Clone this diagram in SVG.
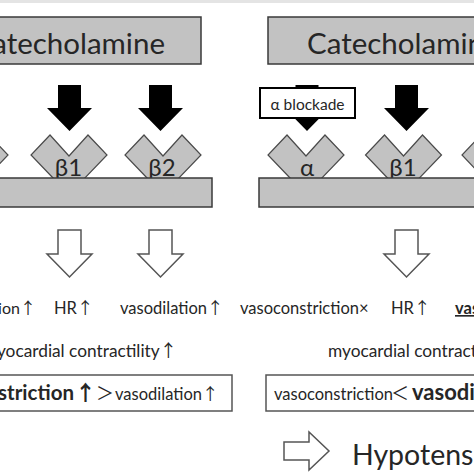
<svg xmlns="http://www.w3.org/2000/svg" xmlns:xlink="http://www.w3.org/1999/xlink" width="474" height="474" viewBox="0 0 474 474">
<style>
.gray{fill:#c2c2c2;stroke:#3a3a3a;stroke-width:1.5}
.rec{fill:#c2c2c2;stroke:#4a4a4a;stroke-width:1.2}
.blk{fill:#000}
.wht{fill:#fff;stroke:#555;stroke-width:1.5}
.t{font-family:Lato,"Noto Sans","Noto Sans CJK JP",sans-serif;fill:#262626}
.cjk{font-family:"Noto Sans CJK JP",sans-serif}
.title{font-size:29.5px}
.row{font-size:16.5px}
.rl{font-size:24px}
</style>
<defs>
<path id="rc" d="M-15,179 L-38,155 L-19,135 L0,156 L19,135 L38,155 L15,179 Z"/>
<path id="ba" d="M-11.5,85 H11.5 V108 H22.5 L0,131 L-22.5,108 H-11.5 Z"/>
<path id="wa" d="M-11.5,230 H11.5 V254 H22.5 L0,277 L-22.5,254 H-11.5 Z"/>
</defs>
<rect x="0" y="0" width="474" height="474" fill="#fff"/>
<rect x="0" y="0" width="474" height="3" fill="#e4e4e4"/>

<g id="title-left">
<rect class="gray" x="-66" y="17" width="267" height="47"/>
<text class="t title" x="165" y="54" text-anchor="end">Catecholamine</text>
</g>
<g id="title-right">
<rect class="gray" x="268" y="17" width="267" height="47"/>
<text class="t title" x="307" y="54">Catecholamine</text>
</g>

<g id="connectors">
<use xlink:href="#ba" class="blk" x="69.5"/>
<use xlink:href="#ba" class="blk" x="160.5"/>
<use xlink:href="#ba" class="blk" x="307"/>
<use xlink:href="#ba" class="blk" x="406.5"/>
<use xlink:href="#wa" class="wht" x="69.5"/>
<use xlink:href="#wa" class="wht" x="160.5"/>
<use xlink:href="#wa" class="wht" x="406.5"/>
<path class="wht" d="M284,442 H309 V432 L329,451 L309,470 V460 H284 Z"/>
</g>

<g id="alpha-blockade">
<rect x="260" y="88" width="95" height="30" fill="#fff" stroke="#000" stroke-width="2"/>
<text class="t" x="307.5" y="110" font-size="15.5" text-anchor="middle">α blockade</text>
</g>

<g id="receptors-left">
<use xlink:href="#rc" class="rec" x="-30"/>
<use xlink:href="#rc" class="rec" x="69"/>
<use xlink:href="#rc" class="rec" x="163"/>
<text class="t rl" x="68.5" y="176" text-anchor="middle">β1</text>
<text class="t rl" x="162" y="176" text-anchor="middle">β2</text>
</g>
<g id="receptors-right">
<use xlink:href="#rc" class="rec" x="306"/>
<use xlink:href="#rc" class="rec" x="403.5"/>
<use xlink:href="#rc" class="rec" x="500"/>
<text class="t rl" x="307" y="176" text-anchor="middle">α</text>
<text class="t rl" x="403" y="176" text-anchor="middle">β1</text>
</g>

<g id="membrane-left"><rect class="gray" x="-10" y="178" width="222" height="29"/></g>
<g id="membrane-right"><rect class="gray" x="259" y="178" width="230" height="29"/></g>

<g id="effects-left">
<text class="t" x="36" y="314" font-size="16" text-anchor="end">vasoconstriction<tspan class="cjk">↑</tspan></text>
<text class="t row" x="54" y="314">HR<tspan class="cjk">↑</tspan></text>
<text class="t row" x="120" y="314">vasodilation<tspan class="cjk">↑</tspan></text>
<text class="t" x="177" y="357" font-size="17.3" text-anchor="end">myocardial contractility<tspan class="cjk">↑</tspan></text>
</g>
<g id="effects-right">
<text class="t row" x="240" y="314">vasoconstriction×</text>
<text class="t row" x="391" y="314">HR<tspan class="cjk">↑</tspan></text>
<text class="t row" x="455" y="314" font-weight="bold" text-decoration="underline">vasodilation<tspan class="cjk">↑</tspan></text>
<text class="t" x="328" y="357" font-size="17.3">myocardial contractility<tspan class="cjk">↑</tspan></text>
</g>

<g id="result-left">
<rect x="-5" y="375" width="237" height="36" fill="#fff" stroke="#555" stroke-width="1.5"/>
<text class="t" x="74" y="400" font-size="20.5" font-weight="bold" text-anchor="end">vasoconstriction</text>
<text class="t cjk" x="75" y="400" font-size="21" font-weight="bold">↑</text>
<text class="t cjk" x="96" y="400" font-size="18">＞</text>
<text class="t row" x="115" y="400">vasodilation<tspan class="cjk">↑</tspan></text>
</g>
<g id="result-right">
<rect x="266" y="375" width="230" height="36" fill="#fff" stroke="#555" stroke-width="1.5"/>
<text class="t row" x="274" y="400">vasoconstriction</text>
<text class="t cjk" x="391" y="400" font-size="18">＜</text>
<text class="t" x="412" y="400" font-size="22" font-weight="bold">vasodilation<tspan class="cjk">↑</tspan></text>
</g>

<g id="outcome">
<text class="t" x="352" y="465" font-size="28.5">Hypotension</text>
</g>
</svg>
